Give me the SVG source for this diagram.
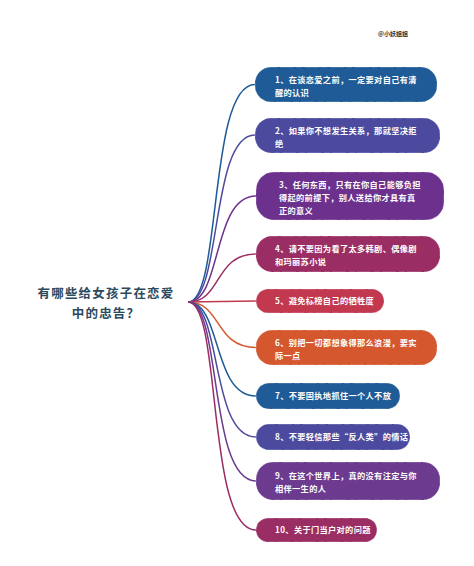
<svg xmlns="http://www.w3.org/2000/svg" width="474" height="566" viewBox="0 0 474 566">
<style>
.n text{font-family:"Noto Sans CJK SC","Noto Sans",sans-serif;font-size:8.2px;font-weight:bold;fill:#fff;letter-spacing:0.35px}
.n rect{stroke:#fff;stroke-opacity:0.5;stroke-width:0.6;stroke-dasharray:6 3 14 2}
.c path{fill:none;stroke-width:1.5}
.root{font-family:"Noto Sans CJK SC","Noto Sans",sans-serif;font-size:12.5px;font-weight:bold;fill:#2c4a5e;letter-spacing:1.2px}
.b1{fill:#1f5b96;stroke:#1f5b96}.b2{fill:#4b4a9e;stroke:#4b4a9e}.b3{fill:#6c318d;stroke:#6c318d}.b4{fill:#9a2d63;stroke:#9a2d63}.b5{fill:#c2384f;stroke:#c2384f}.b6{fill:#d4572e;stroke:#d4572e}.b9{fill:#6c3a8f;stroke:#6c3a8f}
</style>
<rect width="474" height="566" fill="#fff"/>
<text x="378" y="36" font-family="Noto Sans CJK SC,sans-serif" font-size="6" font-weight="bold" fill="#333">@小妖姐姐</text>
<g class="c" id="connectors">
<path d="M188,302 C222,302 208,84.5 255,84.5" stroke="#1f5b96"/>
<path d="M188,302 C222,302 210,135 255,135" stroke="#4b4a9e"/>
<path d="M188,302 C222,302 212,196 256,196" stroke="#6c318d"/>
<path d="M188,302 C222,302 214,254 256,254" stroke="#9a2d63"/>
<path d="M188,302 L256,301" stroke="#c2384f"/>
<path d="M188,302 C222,302 214,347.5 256,347.5" stroke="#d4572e"/>
<path d="M188,302 C222,302 212,396 256,396" stroke="#1f5b96"/>
<path d="M188,302 C222,302 210,437 256,437" stroke="#4b4a9e"/>
<path d="M188,302 C222,302 208,481 256,481" stroke="#6c3a8f"/>
<path d="M188,302 C222,302 206,530 256,530" stroke="#9a2d63"/>
</g>
<g id="root"><text class="root" x="106" y="298" text-anchor="middle">有哪些给女孩子在恋爱</text><text class="root" x="106" y="318" text-anchor="middle">中的忠告？</text></g>
<g class="n" id="n1"><rect class="b1" x="255" y="67" width="182" height="35" rx="16"/><text x="275" y="83">1、在谈恋爱之前，一定要对自己有清</text><text x="275" y="96">醒的认识</text></g>
<g class="n" id="n2"><rect class="b2" x="255" y="118" width="185" height="35" rx="16"/><text x="275" y="134">2、如果你不想发生关系，那就坚决拒</text><text x="275" y="147">绝</text></g>
<g class="n" id="n3"><rect class="b3" x="256" y="172" width="188" height="48" rx="18"/><text x="279" y="188">3、任何东西，只有在你自己能够负担</text><text x="279" y="201">得起的前提下，别人送给你才具有真</text><text x="279" y="214">正的意义</text></g>
<g class="n" id="n4"><rect class="b4" x="256" y="236" width="184" height="36" rx="16"/><text x="275" y="252">4、请不要因为看了太多韩剧、偶像剧</text><text x="275" y="265">和玛丽苏小说</text></g>
<g class="n" id="n5"><rect class="b5" x="256" y="289" width="128" height="24" rx="12"/><text x="275" y="304">5、避免标榜自己的牺牲度</text></g>
<g class="n" id="n6"><rect class="b6" x="256" y="330" width="181" height="35" rx="16"/><text x="275" y="346">6、别把一切都想象得那么浪漫，要实</text><text x="275" y="359">际一点</text></g>
<g class="n" id="n7"><rect class="b1" x="256" y="383" width="144" height="26" rx="13"/><text x="275" y="399">7、不要固执地抓住一个人不放</text></g>
<g class="n" id="n8"><rect class="b2" x="256" y="424" width="154" height="26" rx="13"/><text x="275" y="440">8、不要轻信那些“反人类”的情话</text></g>
<g class="n" id="n9"><rect class="b9" x="256" y="462" width="184" height="38" rx="17"/><text x="275" y="479">9、在这个世界上，真的没有注定与你</text><text x="275" y="492">相伴一生的人</text></g>
<g class="n" id="n10"><rect class="b4" x="256" y="518" width="121" height="24" rx="12"/><text x="275" y="533">10、关于门当户对的问题</text></g>
</svg>
